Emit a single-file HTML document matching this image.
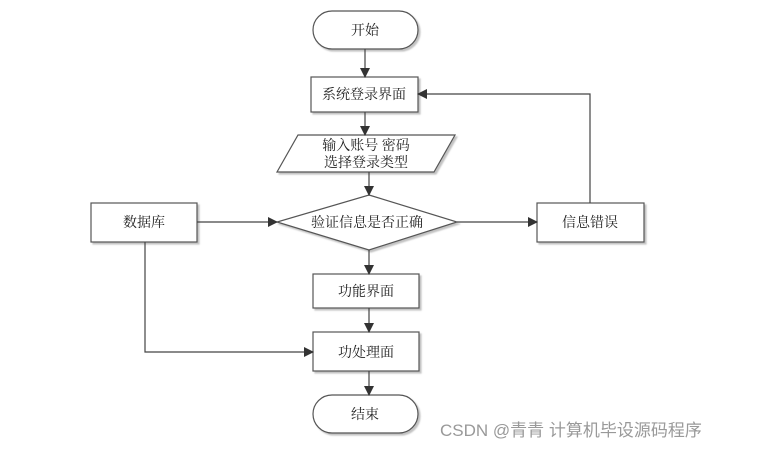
<!DOCTYPE html>
<html><head><meta charset="utf-8"><style>
body{margin:0;background:#fff;}
svg text{font-family:"Liberation Serif","Noto Serif CJK SC",serif;font-size:14px;fill:#222;}
</style></head><body>
<svg width="757" height="448" viewBox="0 0 757 448" xmlns="http://www.w3.org/2000/svg">
<defs>
<marker id="a" markerWidth="10" markerHeight="10" refX="9" refY="5" orient="auto" markerUnits="userSpaceOnUse">
<path d="M0,0 L10,5 L0,10 z" fill="#333"/></marker>
<filter id="s" x="-10%" y="-10%" width="130%" height="140%"><feDropShadow dx="2" dy="2" stdDeviation="0.8" flood-color="#999" flood-opacity="0.6"/></filter>
</defs>
<g stroke="#555" stroke-width="1.2" fill="#fff" filter="url(#s)">
<rect x="313" y="11" width="105" height="38" rx="19"/>
<rect x="311" y="77" width="107" height="35"/>
<polygon points="298,135 455,135 434,172 277,172"/>
<polygon points="369,195 457,222 369,250 277,222"/>
<rect x="91" y="203" width="106" height="39"/>
<rect x="537" y="203" width="107" height="39"/>
<rect x="313" y="274" width="106" height="34"/>
<rect x="313" y="332" width="106" height="39"/>
<rect x="313" y="395" width="105" height="38" rx="19"/>
</g>
<g stroke="#444" stroke-width="1.2" fill="none">
<line x1="365" y1="49" x2="365" y2="77" marker-end="url(#a)"/>
<line x1="365" y1="112" x2="365" y2="135" marker-end="url(#a)"/>
<line x1="369" y1="172" x2="369" y2="195" marker-end="url(#a)"/>
<line x1="197" y1="222" x2="277" y2="222" marker-end="url(#a)"/>
<line x1="457" y1="222" x2="537" y2="222" marker-end="url(#a)"/>
<polyline points="590,203 590,94 418,94" marker-end="url(#a)"/>
<line x1="369" y1="250" x2="369" y2="274" marker-end="url(#a)"/>
<line x1="369" y1="308" x2="369" y2="332" marker-end="url(#a)"/>
<polyline points="145,242 145,352 313,352" marker-end="url(#a)"/>
<line x1="369" y1="371" x2="369" y2="395" marker-end="url(#a)"/>
</g>
<g text-anchor="middle">
<text x="365" y="35">开始</text>
<text x="364" y="99">系统登录界面</text>
<text x="366" y="150">输入账号 密码</text>
<text x="366" y="167">选择登录类型</text>
<text x="367" y="227">验证信息是否正确</text>
<text x="144" y="227">数据库</text>
<text x="590" y="227">信息错误</text>
<text x="366" y="296">功能界面</text>
<text x="366" y="357">功处理面</text>
<text x="365" y="419">结束</text>
</g>
<text x="440" y="436" style="font-family:'Liberation Sans','Noto Sans CJK SC',sans-serif;font-size:17px;fill:#999;">CSDN @青青  计算机毕设源码程序</text>
</svg>
</body></html>
